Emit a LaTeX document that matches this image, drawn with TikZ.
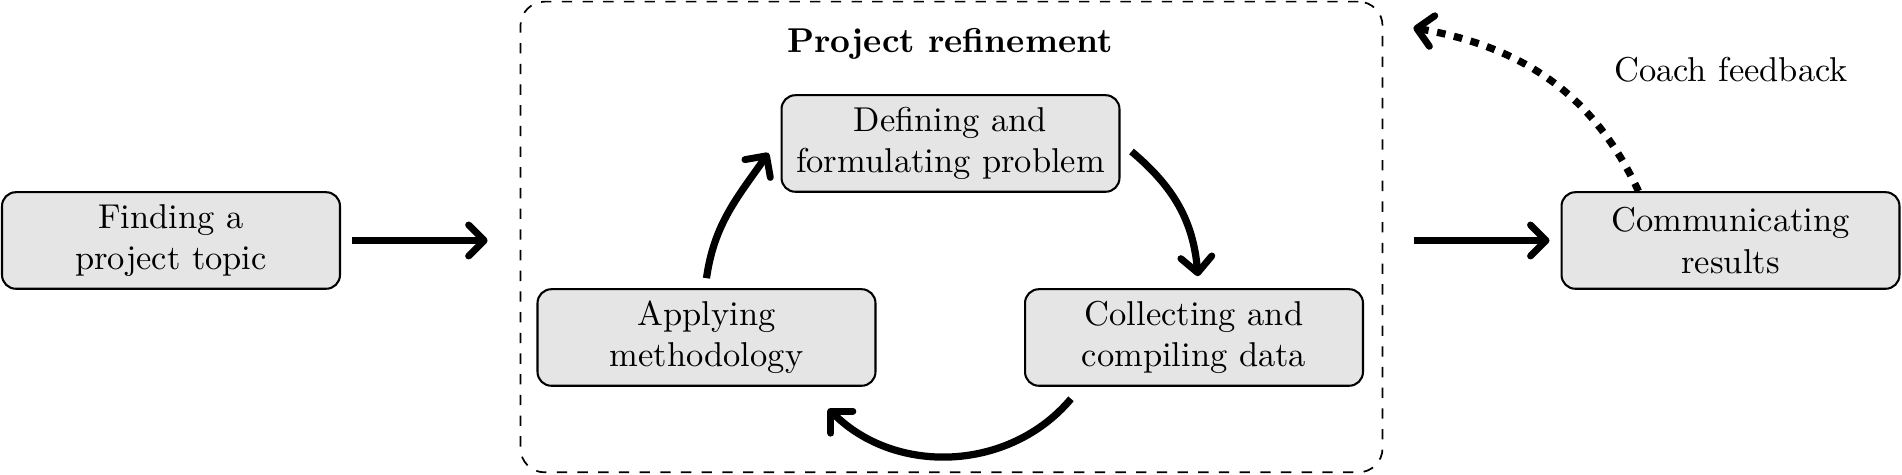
\documentclass[tikz,border=0pt]{standalone}
\usetikzlibrary{arrows.meta}
\begin{document}
\begin{tikzpicture}[x=0.29pt,y=0.29pt,
  stagebox/.style={draw=black, line width=0.6pt, fill=black!10, rounded corners=4pt,
    minimum width=98pt, minimum height=28pt, align=center, inner sep=0pt,
    font=\fontsize{10}{12}\selectfont},
  tipstyle/.style={-{Straight Barb[length=4.5pt,width=9pt,line width=2pt,round]}},
  flowarrow/.style={line width=2.1pt, tipstyle},
  cyclearrow/.style={line width=2.1pt, tipstyle},
  feedbackarrow/.style={line width=2.1pt, dash pattern=on 2.5pt off 2.5pt, tipstyle},
  txt/.style={font=\fontsize{10}{12}\selectfont, inner sep=0pt}
]
\useasboundingbox (0,0) rectangle (1902,475);
% container
\node[draw=black, line width=0.5pt, dashed, rounded corners=7pt, minimum width=250pt, minimum height=136.5pt, inner sep=0pt] (refine) at (951.5,238) {};
\node[txt, font=\fontsize{10}{12}\selectfont\bfseries] (title) at (950,431) {Project refinement};
% boxes
\node[stagebox] (find) at (171,234.5) {Finding a\\project topic};
\node[stagebox] (def) at (950.5,331.5) {Defining and\\formulating problem};
\node[stagebox] (app) at (706.5,137.5) {Applying\\methodology};
\node[stagebox] (col) at (1194,137.5) {Collecting and\\compiling data};
\node[stagebox] (comm) at (1730.5,234.5) {Communicating\\results};
\node[txt] (coach) at (1731,405) {Coach feedback};
\coordinate (fbend) at ([shift={(30,0)}]refine.east |- title.north);
% flow arrows
\draw[flowarrow] ([shift={(11,0)}]find.east) -- ([shift={(-32,0)}]refine.west |- find.east);
\draw[flowarrow] ([shift={(31,0)}]refine.east |- comm.west) -- ([shift={(-11,0)}]comm.west);
% cycle
\draw[cyclearrow] ([shift={(11,-8)}]def.east) to[out=-40, in=95] ([shift={(4,12)}]col.north);
\draw[cyclearrow] ([shift={(47,-12)}]col.south west) to[out=-130, in=-45] ([shift={(-48,-22)}]app.south east);
\draw[cyclearrow] ([shift={(0,10)}]app.north) to[out=82, in=-125] ([shift={(-12,-9.5)}]def.west);
% feedback
\draw[feedbackarrow] ([shift={(-92,0)}]comm.north) to[out=115, in=-10] (fbend);
\end{tikzpicture}
\end{document}
